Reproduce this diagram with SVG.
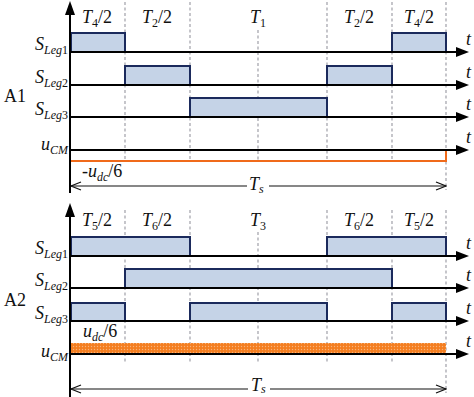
<svg xmlns="http://www.w3.org/2000/svg" width="474" height="397" viewBox="0 0 474 397">
<style>
text{font-family:"Liberation Serif","Times New Roman",serif;fill:#111}
.lbl{font-size:18px}
.sub{font-size:12px}
.it{font-style:italic}
.ax{stroke:#000;stroke-width:2;fill:none}
.dash{stroke:#a0a0a8;stroke-width:1.2;stroke-dasharray:3 2.5;fill:none}
.pf{fill:#c5d3e7;stroke:none}
.pe{stroke:#1b2a5c;stroke-width:2;fill:none;stroke-linejoin:miter}
.ah{fill:#000}
.ts{stroke:#111;stroke-width:1.2;fill:none}
.or{stroke:#f06a1a;stroke-width:2;fill:none}
</style>
<defs>
<pattern id="dots" width="3" height="3" patternUnits="userSpaceOnUse">
<rect width="3" height="3" fill="#f47e20"/>
<circle cx="1.5" cy="1.5" r="0.7" fill="#f9b27a"/>
</pattern>
<marker id="op" viewBox="0 0 12 10" refX="11" refY="5" markerWidth="12" markerHeight="10" markerUnits="userSpaceOnUse" orient="auto-start-reverse">
<path d="M1,1 L11,5 L1,9" fill="none" stroke="#111" stroke-width="1.3"/>
</marker>
</defs>

<!-- ================= Panel A1 ================= -->
<g id="panelA1">
<g id="a1-grid">
<line class="dash" x1="125" y1="2" x2="125" y2="162"/>
<line class="dash" x1="190" y1="2" x2="190" y2="162"/>
<line class="dash" x1="258" y1="30" x2="258" y2="162"/>
<line class="dash" x1="327" y1="2" x2="327" y2="162"/>
<line class="dash" x1="392" y1="2" x2="392" y2="162"/>
<line class="dash" x1="446" y1="2" x2="446" y2="190"/>
</g>
<g id="a1-labels">
<text class="lbl" x="97" y="23" text-anchor="middle"><tspan class="it">T</tspan><tspan class="sub" dy="4">4</tspan><tspan dy="-4">/2</tspan></text>
<text class="lbl" x="157" y="23" text-anchor="middle"><tspan class="it">T</tspan><tspan class="sub" dy="4">2</tspan><tspan dy="-4">/2</tspan></text>
<text class="lbl" x="258" y="23" text-anchor="middle"><tspan class="it">T</tspan><tspan class="sub" dy="4">1</tspan></text>
<text class="lbl" x="359" y="23" text-anchor="middle"><tspan class="it">T</tspan><tspan class="sub" dy="4">2</tspan><tspan dy="-4">/2</tspan></text>
<text class="lbl" x="419" y="23" text-anchor="middle"><tspan class="it">T</tspan><tspan class="sub" dy="4">4</tspan><tspan dy="-4">/2</tspan></text>
<text x="4" y="102" font-size="18">A1</text>
</g>
<g id="a1-leg1">
<rect class="pf" x="70" y="33" width="55" height="19"/>
<rect class="pf" x="392" y="33" width="54" height="19"/>
<path class="pe" d="M71,52 V33 H125 V52 M392,52 V33 H446 V52"/>
<line class="ax" x1="70" y1="52" x2="457" y2="52"/>
<polygon class="ah" points="469,52 456,47 456,57"/>
<text class="lbl" x="68" y="50" text-anchor="end"><tspan class="it">S</tspan><tspan class="sub it" dy="4">Leg</tspan><tspan class="sub">1</tspan></text>
<text class="lbl it" x="466" y="45">t</text>
</g>
<g id="a1-leg2">
<rect class="pf" x="125" y="66" width="65" height="19"/>
<rect class="pf" x="327" y="66" width="65" height="19"/>
<path class="pe" d="M125,85 V66 H190 V85 M327,85 V66 H392 V85"/>
<line class="ax" x1="70" y1="85" x2="457" y2="85"/>
<polygon class="ah" points="469,85 456,80 456,90"/>
<text class="lbl" x="68" y="83" text-anchor="end"><tspan class="it">S</tspan><tspan class="sub it" dy="4">Leg</tspan><tspan class="sub">2</tspan></text>
<text class="lbl it" x="466" y="78">t</text>
</g>
<g id="a1-leg3">
<rect class="pf" x="190" y="98" width="137" height="19"/>
<path class="pe" d="M190,117 V98 H327 V117"/>
<line class="ax" x1="70" y1="117" x2="457" y2="117"/>
<polygon class="ah" points="469,117 456,112 456,122"/>
<text class="lbl" x="68" y="115" text-anchor="end"><tspan class="it">S</tspan><tspan class="sub it" dy="4">Leg</tspan><tspan class="sub">3</tspan></text>
<text class="lbl it" x="466" y="110">t</text>
</g>
<g id="a1-ucm">
<path class="or" d="M70,161 H446 V150"/>
<line class="ax" x1="70" y1="150" x2="457" y2="150"/>
<polygon class="ah" points="469,150 456,145 456,155"/>
<text class="lbl" x="68" y="150" text-anchor="end"><tspan class="it">u</tspan><tspan class="sub it" dy="4">CM</tspan></text>
<text class="lbl it" x="466" y="143">t</text>
<text class="lbl" x="82" y="177"><tspan>-</tspan><tspan class="it">u</tspan><tspan class="sub it" dy="4">dc</tspan><tspan dy="-4">/6</tspan></text>
</g>
<g id="a1-ts">
<line class="ts" x1="71" y1="186" x2="247" y2="186" marker-start="url(#op)"/>
<line class="ts" x1="269" y1="186" x2="446" y2="186" marker-end="url(#op)"/>
<text class="lbl" x="249" y="190"><tspan class="it">T</tspan><tspan class="sub it" dy="3">s</tspan></text>
</g>
<g id="a1-axis">
<line class="ax" x1="70" y1="12" x2="70" y2="193"/>
<polygon class="ah" points="70,1 65,15 75,15"/>
</g>
</g>

<!-- ================= Panel A2 ================= -->
<g id="panelA2">
<g id="a2-grid">
<line class="dash" x1="125" y1="210" x2="125" y2="364"/>
<line class="dash" x1="190" y1="210" x2="190" y2="364"/>
<line class="dash" x1="258" y1="232" x2="258" y2="364"/>
<line class="dash" x1="327" y1="210" x2="327" y2="364"/>
<line class="dash" x1="392" y1="210" x2="392" y2="364"/>
<line class="dash" x1="446" y1="210" x2="446" y2="393"/>
</g>
<g id="a2-labels">
<text class="lbl" x="97" y="226" text-anchor="middle"><tspan class="it">T</tspan><tspan class="sub" dy="4">5</tspan><tspan dy="-4">/2</tspan></text>
<text class="lbl" x="157" y="226" text-anchor="middle"><tspan class="it">T</tspan><tspan class="sub" dy="4">6</tspan><tspan dy="-4">/2</tspan></text>
<text class="lbl" x="258" y="226" text-anchor="middle"><tspan class="it">T</tspan><tspan class="sub" dy="4">3</tspan></text>
<text class="lbl" x="359" y="226" text-anchor="middle"><tspan class="it">T</tspan><tspan class="sub" dy="4">6</tspan><tspan dy="-4">/2</tspan></text>
<text class="lbl" x="419" y="226" text-anchor="middle"><tspan class="it">T</tspan><tspan class="sub" dy="4">5</tspan><tspan dy="-4">/2</tspan></text>
<text x="4" y="306" font-size="18">A2</text>
</g>
<g id="a2-leg1">
<rect class="pf" x="70" y="237" width="120" height="19"/>
<rect class="pf" x="327" y="237" width="119" height="19"/>
<path class="pe" d="M71,256 V237 H190 V256 M327,256 V237 H446 V256"/>
<line class="ax" x1="70" y1="256" x2="457" y2="256"/>
<polygon class="ah" points="469,256 456,251 456,261"/>
<text class="lbl" x="68" y="254" text-anchor="end"><tspan class="it">S</tspan><tspan class="sub it" dy="4">Leg</tspan><tspan class="sub">1</tspan></text>
<text class="lbl it" x="466" y="249">t</text>
</g>
<g id="a2-leg2">
<rect class="pf" x="125" y="269" width="267" height="19"/>
<path class="pe" d="M125,288 V269 H392 V288"/>
<line class="ax" x1="70" y1="288" x2="457" y2="288"/>
<polygon class="ah" points="469,288 456,283 456,293"/>
<text class="lbl" x="68" y="286" text-anchor="end"><tspan class="it">S</tspan><tspan class="sub it" dy="4">Leg</tspan><tspan class="sub">2</tspan></text>
<text class="lbl it" x="466" y="281">t</text>
</g>
<g id="a2-leg3">
<rect class="pf" x="70" y="303" width="55" height="18"/>
<rect class="pf" x="190" y="303" width="137" height="18"/>
<rect class="pf" x="392" y="303" width="54" height="18"/>
<path class="pe" d="M71,321 V303 H125 V321 M190,321 V303 H327 V321 M392,321 V303 H446 V321"/>
<line class="ax" x1="70" y1="321" x2="457" y2="321"/>
<polygon class="ah" points="469,321 456,316 456,326"/>
<text class="lbl" x="68" y="319" text-anchor="end"><tspan class="it">S</tspan><tspan class="sub it" dy="4">Leg</tspan><tspan class="sub">3</tspan></text>
<text class="lbl it" x="466" y="314">t</text>
</g>
<g id="a2-ucm">
<rect x="70" y="343" width="376" height="10" fill="url(#dots)"/>
<line class="ax" x1="70" y1="354" x2="457" y2="354"/>
<polygon class="ah" points="469,354 456,349 456,359"/>
<text class="lbl" x="68" y="357" text-anchor="end"><tspan class="it">u</tspan><tspan class="sub it" dy="4">CM</tspan></text>
<text class="lbl it" x="466" y="347">t</text>
<text class="lbl" x="83" y="337"><tspan class="it">u</tspan><tspan class="sub it" dy="4">dc</tspan><tspan dy="-4">/6</tspan></text>
</g>
<g id="a2-ts">
<line class="ts" x1="71" y1="389" x2="248" y2="389" marker-start="url(#op)"/>
<line class="ts" x1="270" y1="389" x2="446" y2="389" marker-end="url(#op)"/>
<text class="lbl" x="251" y="391"><tspan class="it">T</tspan><tspan class="sub it" dy="2">s</tspan></text>
</g>
<g id="a2-axis">
<line class="ax" x1="70" y1="214" x2="70" y2="397"/>
<polygon class="ah" points="70,203 65,217 75,217"/>
</g>
</g>
</svg>
